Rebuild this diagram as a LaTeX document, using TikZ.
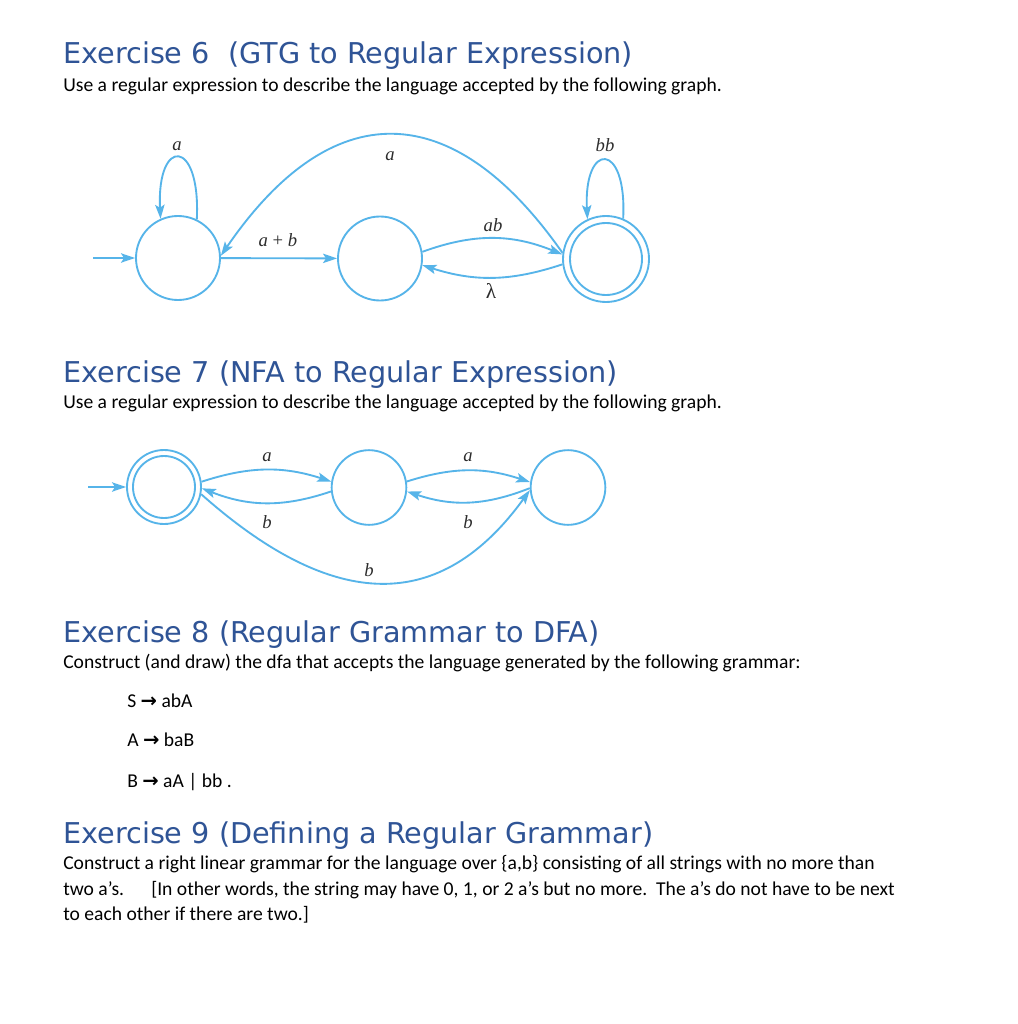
\documentclass[tikz,border=0pt]{standalone}
\usepackage{fontspec}
\setmainfont{Carlito}
\newfontfamily\lblfont{Liberation Serif}
\newfontfamily\arrfont{DejaVu Sans}
\newfontfamily\headfont{DejaVu Sans}
\usetikzlibrary{arrows.meta}
\definecolor{headblue}{RGB}{47,84,150}
\definecolor{edgeblue}{RGB}{86,180,233}
\definecolor{lblgray}{RGB}{45,45,45}
\tikzset{
  heading/.style={anchor=base west, inner sep=0, font=\headfont\fontsize{21.5}{25}\selectfont, text=headblue},
  body/.style={anchor=base west, inner sep=0, font=\fontsize{14.7}{17}\selectfont},
  state/.style={circle, draw=edgeblue, line width=1.4pt, minimum size=63pt, inner sep=0},
  edge/.style={draw=edgeblue, line width=1.4pt, -{Stealth[length=10.5pt,width=7pt,inset=2.2pt]}},
  lbl/.style={inner sep=0, font=\lblfont\itshape\fontsize{14}{16}\selectfont, text=lblgray}
}
\begin{document}
\begin{tikzpicture}[x=0.75pt,y=-0.75pt]
\path[fill=white] (0,0) rectangle (1017,1024);

% ---------- Exercise 6 ----------
\node[heading] (h6) at (63,63.5) {Exercise 6\ \ (GTG to Regular Expression)};
\node[body] (t6) at (63,91.5) {Use a regular expression to describe the language accepted by the following graph.};

\node[state] (c1) at (178,258) {};
\node[state] (c2) at (380,258.5) {};
\node[state, minimum size=64.5pt] (c3) at (606,259) {};
\node[state, minimum size=54pt] (c3in) at (606,259) {};
\coordinate (s1) at (93,258);

\draw[edge] (s1) -- (c1);
\draw[edge] (c1) -- (c2);
\draw[edge] (c1.64) .. controls +(4,-82) and +(-4,-82) .. (c1.114);
\draw[edge] (c3.67) .. controls +(4,-78) and +(-4,-78) .. (c3.115);
\draw[edge] (c3.172) .. controls (452,95) and (331,95) .. (c1.3);
\draw[edge] (c2.9) to[bend left=21] (c3.174);
\draw[edge] (c3.187) to[bend left=18] (c2.-9);

\node[lbl] (la1) at (177,146) {a};
\node[lbl] (lbb) at (605,145) {bb};
\node[lbl] (la2) at (390,156) {a};
\node[lbl] (lapb) at (278,240) {a {\upshape+} b};
\node[lbl] (lab) at (493,225) {ab};
\node[lbl, font=\lblfont\fontsize{16}{18}\selectfont] (llam) at (491,291) {λ};

% ---------- Exercise 7 ----------
\node[heading] (h7) at (63,382) {Exercise 7 (NFA to Regular Expression)};
\node[body] (t7) at (63,408.5) {Use a regular expression to describe the language accepted by the following graph.};

\node[state, minimum size=55.5pt] (d1) at (164,487) {};
\node[state, minimum size=46.5pt] (d1in) at (164,487) {};
\node[state, minimum size=56pt] (d2) at (369,487.5) {};
\node[state, minimum size=56pt] (d3) at (568,487.5) {};
\coordinate (s2) at (88,487);

\draw[edge] (s2) -- (d1);
\draw[edge] (d1.8) to[bend left=18] (d2.171);
\draw[edge] (d2.186) to[bend left=20] (d1.-2);
\draw[edge] (d2.9) to[bend left=18] (d3.172);
\draw[edge] (d3.181) to[bend left=20] (d2.-6);
\draw[edge] (d1.-11) .. controls (335,613) and (441,613) .. (d3.184);

\node[lbl] (ea1) at (267,457) {a};
\node[lbl] (ea2) at (468,457) {a};
\node[lbl] (eb1) at (267,522) {b};
\node[lbl] (eb2) at (468,522) {b};
\node[lbl] (eb3) at (369,570) {b};

% ---------- Exercise 8 ----------
\node[heading] (h8) at (63,642) {Exercise 8 (Regular Grammar to DFA)};
\node[body] (t8) at (63,668.5) {Construct (and draw) the dfa that accepts the language generated by the following grammar:};
\node[body] (g1) at (127,707.5) {S {\arrfont\bfseries →} abA};
\node[body] (g2) at (127,746.5) {A {\arrfont\bfseries →} baB};
\node[body] (g3) at (127,787.5) {B {\arrfont\bfseries →} aA | bb .};

% ---------- Exercise 9 ----------
\node[heading] (h9) at (63,843) {Exercise 9 (Defining a Regular Grammar)};
\node[body] (t9a) at (63,869.5) {Construct a right linear grammar for the language over \{a,b\} consisting of all strings with no more than};
\node[body] (t9b) at (63,895.5) {two a’s.};
\node[body] (t9c) at (151,895.5) {[In other words, the string may have 0, 1, or 2 a’s but no more.\ \ The a’s do not have to be next};
\node[body] (t9d) at (63,920.5) {to each other if there are two.]};
\end{tikzpicture}
\end{document}
